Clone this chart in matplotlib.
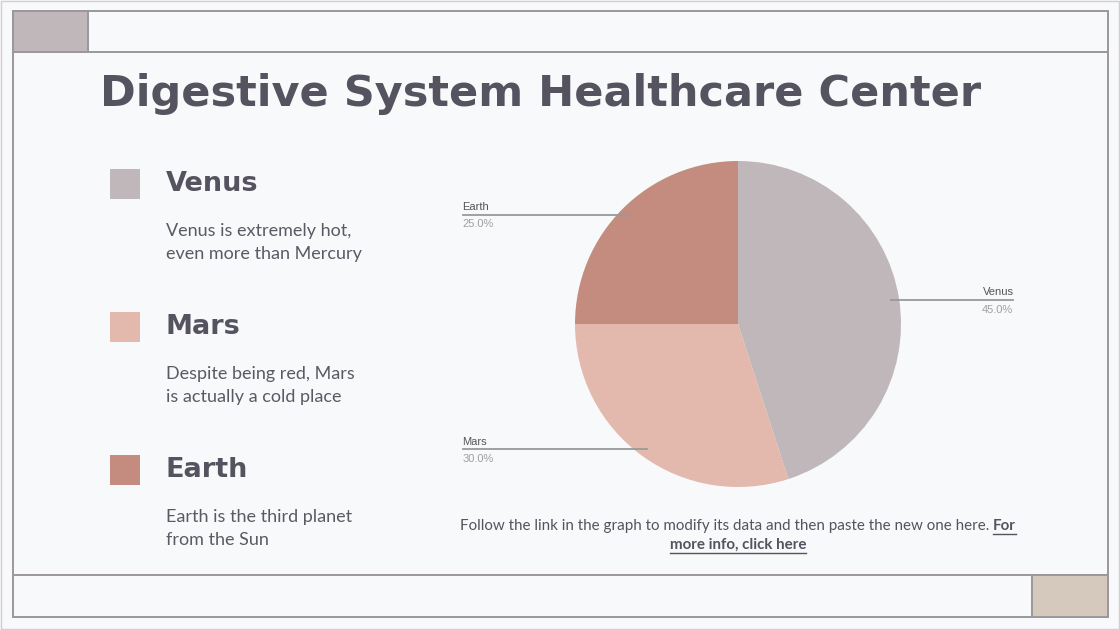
import matplotlib
matplotlib.use("Agg")
import matplotlib.pyplot as plt
from matplotlib.patches import Rectangle
import numpy as np

# ---- data ----
categories = ["Venus", "Mars", "Earth"]
values = [45.0, 30.0, 25.0]
colors = ["#bfb7b9", "#e3b8ad", "#c48b7f"]
descriptions = ["Venus is extremely hot,\neven more than Mercury",
                "Despite being red, Mars\nis actually a cold place",
                "Earth is the third planet\nfrom the Sun"]
title = "Digestive System Healthcare Center"
note_plain = "Follow the link in the graph to modify its data and then paste the new one here. "
note_link1 = "For"
note_link2 = "more info, click here"

W, H = 1120, 630
fig = plt.figure(figsize=(W / 100, H / 100), dpi=100)
fig.patch.set_facecolor("#f8f9fa")

def fx(x): return x / W
def fy(y): return 1 - y / H

dark = "#55535f"
frame_c = "#9b979c"

# frame
bg = fig.add_axes([0, 0, 1, 1])
bg.set_xlim(0, W); bg.set_ylim(H, 0); bg.axis("off")
bg.add_patch(Rectangle((1, 1), W - 2, H - 2, fill=False, ec="#d0d0d4", lw=1))
bg.add_patch(Rectangle((13, 11), 1095, 606, fill=False, ec=frame_c, lw=1.4))
bg.plot([13, 1108], [52, 52], color=frame_c, lw=1.4)
bg.plot([13, 1108], [575, 575], color=frame_c, lw=1.4)
bg.add_patch(Rectangle((13, 11), 75, 41, fc="#bfb7b9", ec=frame_c, lw=1.4))
bg.add_patch(Rectangle((1032, 575), 76, 42, fc="#d5c8bd", ec=frame_c, lw=1.4))

fig.canvas.draw()
renderer = fig.canvas.get_renderer()

# title, fitted to width
tt = bg.text(100, 94, title, fontsize=35, fontweight="bold", color=dark,
             family="DejaVu Sans", va="center", ha="left")
tw = tt.get_window_extent(renderer).width
tt.set_fontsize(35 * 880 / tw)

# legend list
ys = [184, 327, 470]
for cat, col, desc, y in zip(categories, colors, descriptions, ys):
    bg.add_patch(Rectangle((110, y - 15), 30, 30, fc=col, ec="none"))
    bg.text(166, y, cat, fontsize=19.5, fontweight="bold", color=dark,
            family="DejaVu Sans", va="center", ha="left")
    bg.text(166, y + 47, desc.split("\n")[0], fontsize=13, color="#595a64", family="Lato",
            va="center", ha="left")
    bg.text(166, y + 70, desc.split("\n")[1], fontsize=13, color="#595a64", family="Lato",
            va="center", ha="left")

# pie
cx, cy, r = 738, 324, 163
ax = fig.add_axes([fx(cx - r), fy(cy + r), 2 * r / W, 2 * r / H])
wedges, _ = ax.pie(values, colors=colors, startangle=90, counterclock=False,
                   radius=1, wedgeprops=dict(linewidth=0))
ax.set_xlim(-1, 1); ax.set_ylim(-1, 1); ax.set_aspect("auto"); ax.axis("off")

label_x = 1.69
for w, cat, v in zip(wedges, categories, values):
    mid = np.deg2rad((w.theta1 + w.theta2) / 2)
    px, py = 0.95 * np.cos(mid), 0.95 * np.sin(mid)
    sx = label_x if px > 0 else -label_x
    ha = "right" if px > 0 else "left"
    ax.plot([px, sx], [py, py], color="#999999", lw=1.3, clip_on=False)
    ax.text(sx, py + 0.015, cat, fontsize=8, color="#555555", family="Liberation Sans",
            ha=ha, va="bottom", clip_on=False)
    ax.text(sx, py - 0.03, f"{v:.1f}%", fontsize=8, color="#a0a0a0", family="Liberation Sans",
            ha=ha, va="top", clip_on=False)

# bottom note with underlined link
fs = 10.9
t1 = bg.text(0, 526, note_plain, fontsize=fs, color=dark, family="Lato", va="center", ha="left")
t2 = bg.text(0, 526, note_link1, fontsize=fs, color=dark, family="Lato", fontweight="bold",
             va="center", ha="left")
w1 = t1.get_window_extent(renderer).width
w2 = t2.get_window_extent(renderer).width
start = 738 - (w1 + w2) / 2
t1.set_x(start)
t2.set_x(start + w1)
bg.plot([start + w1, start + w1 + w2], [534, 534], color=dark, lw=1)
t3 = bg.text(738, 545, note_link2, fontsize=fs, color=dark, family="Lato", fontweight="bold",
             va="center", ha="center")
w3 = t3.get_window_extent(renderer).width
bg.plot([738 - w3 / 2, 738 + w3 / 2], [553, 553], color=dark, lw=1)

fig.savefig("out.png", dpi=100, facecolor=fig.get_facecolor())
